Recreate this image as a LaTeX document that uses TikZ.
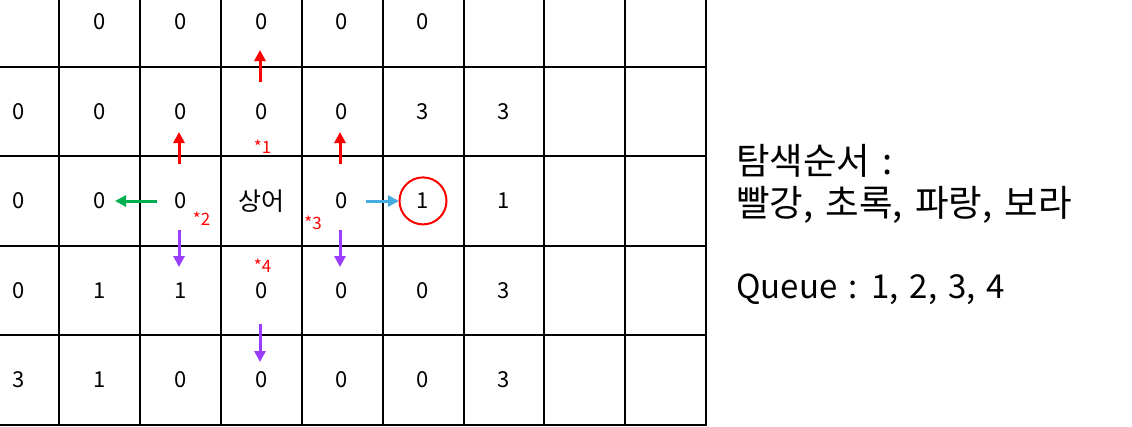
\documentclass[tikz,border=0pt]{standalone}
\usepackage{fontspec}
\setmainfont{Noto Sans CJK KR}
\newfontfamily\sidefont[WordSpace=1.5]{Noto Sans CJK KR}
\usetikzlibrary{arrows.meta}
\definecolor{redc}{HTML}{FF0000}
\definecolor{greenc}{HTML}{00B050}
\definecolor{bluec}{HTML}{45ACE0}
\definecolor{purplec}{HTML}{9B3DFF}
\begin{document}
\begin{tikzpicture}[x=1pt,y=-1pt,
  gridline/.style={line width=2pt,black},
  cell/.style={inner sep=0pt,font=\fontsize{22}{26}\selectfont},
  star/.style={inner sep=0pt,text=redc,font=\fontsize{17}{20}\selectfont},
  arr/.style={line width=3pt,-{Triangle[length=11pt,width=11pt]}},
  side/.style={inner sep=0pt,anchor=base west,font=\sidefont\fontsize{36.5}{44}\selectfont}]
\useasboundingbox (0,0) rectangle (1132,426);
\fill[white] (0,0) rectangle (1132,426);
% grid
\foreach \k in {0,...,8} \draw[gridline] ({59+80.9*\k},0) -- ({59+80.9*\k},426);
\foreach \k in {0,...,4} \draw[gridline] (0,{66.7+89.45*\k}) -- (707,{66.7+89.45*\k});
% cell texts
\foreach \row/\vals in {0/{,0,0,0,0,0,,,},1/{0,0,0,0,0,3,3,,},3/{0,1,1,0,0,0,3,,},4/{3,1,0,0,0,0,3,,}}{
  \foreach \v [count=\c from 0] in \vals {
    \node[cell] (c\row\c) at ({18.5+80.9*\c},{22+89.45*\row}) {\v};
  }
}
\node[cell] (c20) at (18.5,200.9) {0};
\node[cell] (c21) at (99.4,200.9) {0};
\node[cell] (c22) at (180.3,200.9) {0};
\node[cell,font=\fontsize{25}{30}\selectfont] (c23) at (261.2,200.9) {상어};
\node[cell] (c24) at (342.1,200.9) {0};
\node[cell,circle,draw=redc,line width=2pt,minimum size=47pt] (c25) at (423,200.9) {1};
\node[cell] (c26) at (503.9,200.9) {1};
% star labels
\node[star] (s1) at (262.5,146.5) {*1};
\node[star] (s2) at (201.5,218.5) {*2};
\node[star] (s3) at (313,222.5) {*3};
\node[star] (s4) at (262.5,266) {*4};
% arrow end points
\coordinate (r1a) at (260,82);  \coordinate (r1b) at (260,50);
\coordinate (r2a) at (179,164); \coordinate (r2b) at (179,132);
\coordinate (r3a) at (340,164); \coordinate (r3b) at (340,132);
\coordinate (ga) at (157,201);  \coordinate (gb) at (115,201);
\coordinate (ba) at (366,201);  \coordinate (bb) at (399,201);
\coordinate (p1a) at (179,230); \coordinate (p1b) at (179,267);
\coordinate (p2a) at (340,230); \coordinate (p2b) at (340,267);
\coordinate (p3a) at (260,324); \coordinate (p3b) at (260,362);
\draw[arr,redc] (r1a) -- (r1b);
\draw[arr,redc] (r2a) -- (r2b);
\draw[arr,redc] (r3a) -- (r3b);
\draw[arr,greenc] (ga) -- (gb);
\draw[arr,bluec] (ba) -- (bb);
\draw[arr,purplec] (p1a) -- (p1b);
\draw[arr,purplec] (p2a) -- (p2b);
\draw[arr,purplec] (p3a) -- (p3b);
% side text
\node[side] (t1) at (736,174) {탐색순서 :};
\node[side] (t2) at (736,216) {빨강, 초록, 파랑, 보라};
\node[side,font=\sidefont\fontsize{33}{40}\selectfont] (t3) at (736,298) {Queue : 1, 2, 3, 4};
\end{tikzpicture}
\end{document}
